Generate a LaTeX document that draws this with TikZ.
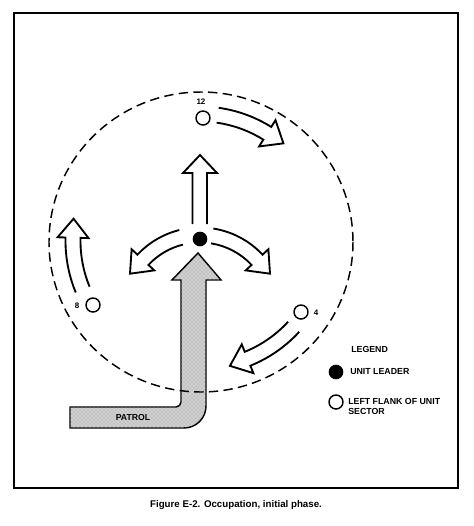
\documentclass[tikz,border=0pt]{standalone}
\usepackage{fontspec}
\setmainfont{Liberation Sans}
\usetikzlibrary{calc,patterns}

% hollow sweep arrow on an arc: centre, radius, start angle, head angle, turn (90 or -90)
\newcommand{\sweeparrow}[5]{%
  \draw[sweep] ($(#1)+(#3:{#2+7.5})$) arc[start angle=#3, end angle=#4, radius={#2+7.5}]
    -- ($(#1)+(#4:{#2+15.5})$) -- ($(#1)+(#4:#2)+({#4+(#5)}:19)$)
    -- ($(#1)+(#4:{#2-15.5})$) -- ($(#1)+(#4:{#2-7.5})$)
    arc[start angle=#4, end angle=#3, radius={#2-7.5}];
}

\begin{document}
\begin{tikzpicture}[x=0.75pt,y=0.75pt,yscale=-1,xscale=1,
  sweep/.style={line width=1.4pt, line join=miter},
  flankring/.style={circle, draw, line width=1.1pt, minimum size=10.5pt, inner sep=0pt},
  leaderdot/.style={circle, fill, minimum size=11pt, inner sep=0pt},
  tag/.style={inner sep=0.75pt, font=\fontsize{6}{7}\selectfont\bfseries},
  legendtext/.style={anchor=west, inner sep=0.75pt, font=\fontsize{6.6}{7.5}\selectfont\bfseries}]
\useasboundingbox (0,0) rectangle (474,526);

%Frame
\draw [line width=1.6pt] (14,13) rectangle (458,488);

%Patrol arrow
\draw [line width=1.1pt, fill=black!18, postaction={pattern=crosshatch dots, pattern color=black!45}]
  (198,253) -- (221,280) -- (206,280) -- (206,406) arc[start angle=0, end angle=90, radius=22]
  -- (70,428) -- (70,407) -- (176,407) arc[start angle=90, end angle=0, radius=5]
  -- (181,280) -- (172,280) -- cycle;
% Text Node
\node [tag, font=\fontsize{6.5}{8}\selectfont\bfseries] (patrol) at (133,418) {PATROL};

%Dashed perimeter
\draw [line width=1.1pt, dash pattern=on 7pt off 4pt] (201,242) ellipse [x radius=152, y radius=150];

%Unit leader and left flanks
\node [leaderdot] (leader) at (200,239) {};
\node [flankring] (flank12) at (203,118) {};
\node [flankring] (flank8) at (93,305) {};
\node [flankring] (flank4) at (301,312) {};
% Text Node
\node [tag] (label12) at (201,102) {12};
\node [tag] (label8) at (77,306) {8};
\node [tag] (label4) at (316,313) {4};

%Straight arrow out of the centre
\draw [sweep] (192.5,224) -- (192.5,173) -- (183,173) -- (200,155) -- (217,173) -- (207,173) -- (207,224);

%Curved arrows
\coordinate (hub) at (200,241);
\coordinate (fork) at (200,313);
\sweeparrow{hub}{127}{-82}{-58}{90}
\sweeparrow{hub}{127}{42.5}{68}{90}
\sweeparrow{hub}{127}{157.5}{181.5}{90}
\sweeparrow{fork}{78}{-81}{-43}{90}
\sweeparrow{fork}{78}{-104}{-137}{-90}

%Legend
\node [legendtext] (legendtitle) at (350,349) {LEGEND};
\node [leaderdot] (keyleader) at (336,372) {};
\node [legendtext] (keyleadertext) at (349,372) {UNIT LEADER};
\node [flankring] (keyflank) at (336,402) {};
\node [legendtext] (keyflanktext) at (347,401.5) {LEFT FLANK OF UNIT};
\node [legendtext] (keysectortext) at (347,411.5) {SECTOR};

% Caption
\node [inner sep=0.75pt, font=\fontsize{7.3}{9}\selectfont\bfseries] (caption) at (236,505) {Figure E-2. Occupation, initial phase.};

\end{tikzpicture}
\end{document}
